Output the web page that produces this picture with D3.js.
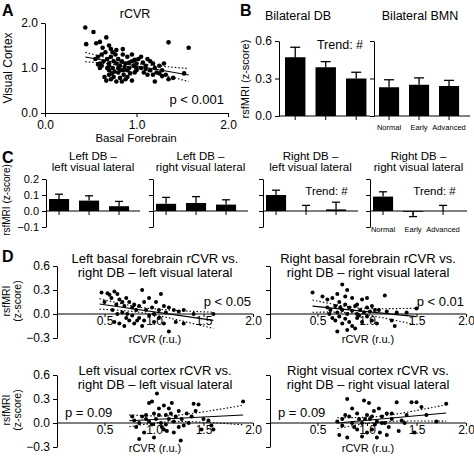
<!DOCTYPE html>
<html><head><meta charset="utf-8">
<script src="https://cdn.jsdelivr.net/npm/d3@7"></script>
<style>body{margin:0;background:#fff}svg{font-family:"Liberation Sans",Arial,sans-serif}</style>
</head><body><svg id="c" width="474" height="457"></svg>
<script>
// ---------- DATA ----------
const panelAPoints=[[0.44,1.9],[0.45,1.53],[0.53,1.8],[0.56,1.55],[0.6,1.58],[0.67,1.68],[0.63,1.45],[0.7,1.5],[0.72,1.42],[0.78,1.4],[0.85,1.42],[0.66,1.35],[0.62,1.3],[0.58,1.25],[0.55,1.2],[0.6,1.1],[0.62,1.05],[0.64,1.15],[0.68,1.2],[0.7,1.1],[0.72,1.25],[0.74,1.0],[0.75,1.15],[0.77,1.3],[0.8,1.2],[0.82,1.05],[0.84,1.15],[0.86,0.95],[0.88,1.1],[0.9,1.25],[0.92,1.0],[0.95,1.15],[0.97,1.05],[1.0,1.1],[1.02,1.2],[1.05,1.0],[1.07,1.12],[1.1,1.05],[1.12,1.2],[1.15,0.95],[1.18,1.1],[1.2,1.0],[1.22,0.9],[1.25,1.05],[1.28,0.95],[1.3,1.1],[1.32,0.85],[1.35,0.75],[1.4,0.78],[1.52,0.88],[1.35,1.57],[1.57,1.45],[1.2,0.7],[0.65,0.8],[0.67,0.72],[0.7,0.85],[0.72,0.75],[0.75,0.8],[0.78,0.7],[0.8,0.9],[0.82,0.78],[0.84,0.7],[0.86,0.85],[0.88,0.75],[0.9,0.8],[0.93,0.88],[0.95,0.72],[0.98,0.9],[0.7,0.95],[0.76,0.92],[0.8,1.0],[0.85,1.3],[0.9,0.95],[0.95,1.3],[1.0,0.95],[1.05,1.25],[1.08,0.9],[1.15,1.15],[1.18,0.85],[1.25,0.88],[0.6,1.0],[0.58,1.08],[0.7,1.05],[0.78,1.1],[0.83,0.95],[0.87,1.02],[1.12,0.85],[1.0,1.0],[0.92,1.12],[0.74,1.35],[0.68,1.0],[0.73,0.88],[1.28,0.82],[1.1,0.98],[0.98,1.18]];
const groups=["Normal","Early","Advanced"];
const bilateralDB=[0.47,0.39,0.30], bilateralDBErr=[0.08,0.045,0.05];
const bilateralBMN=[0.23,0.25,0.24], bilateralBMNErr=[0.06,0.055,0.045];
const cTitles=[["Left DB –","left visual lateral"],["Left DB –","right visual lateral"],["Right DB –","left visual lateral"],["Right DB –","right visual lateral"]];
const cValues=[[0.075,0.065,0.03],[0.045,0.05,0.04],[0.10,0.0,0.01],[0.09,-0.005,0.0]];
const cErr=[[0.03,0.03,0.03],[0.04,0.04,0.03],[0.03,0.035,0.045],[0.03,-0.03,0.035]];
const cTrend=[false,false,true,true];
const dTitles=[["Left basal forebrain rCVR vs.","right DB – left visual lateral"],["Right basal forebrain rCVR vs.","right DB – right visual lateral"],["Left visual cortex rCVR vs.","right DB – left visual lateral"],["Right visual cortex rCVR vs.","right DB – right visual lateral"]];
const dP=["p < 0.05","p < 0.01","p = 0.09","p = 0.09"];
const dPoints=[
[[0.47,0.27],[0.53,0.26],[0.55,0.24],[0.6,0.28],[0.63,0.25],[0.57,0.2],[0.65,0.18],[0.5,0.15],[0.62,0.12],[0.68,0.15],[0.7,0.1],[0.72,0.2],[0.75,0.15],[0.78,0.08],[0.8,0.12],[0.82,0.05],[0.85,0.1],[0.88,0.3],[0.9,0.15],[0.92,0.05],[0.95,0.2],[0.98,0.08],[1.0,0.0],[1.02,0.15],[1.05,0.05],[1.07,0.25],[1.1,0.1],[1.12,0.02],[1.15,0.08],[1.2,0.05],[1.25,0.03],[1.3,0.05],[1.4,0.0],[1.6,0.0],[0.6,-0.1],[0.65,-0.12],[0.7,-0.15],[0.72,-0.05],[0.75,-0.08],[0.78,-0.02],[0.8,-0.12],[0.85,-0.05],[0.88,-0.15],[0.9,-0.08],[0.95,-0.02],[1.0,-0.1],[1.05,-0.05],[1.1,-0.12],[1.15,-0.22],[1.22,-0.1],[1.3,-0.12],[0.68,0.02],[0.58,0.05],[0.73,0.0],[0.83,-0.08],[0.63,0.0]],
[[0.45,0.27],[0.55,0.22],[0.6,0.18],[0.65,0.2],[0.7,0.25],[0.75,0.37],[0.72,0.15],[0.78,0.22],[0.8,0.3],[0.85,0.2],[0.9,0.12],[0.95,0.18],[1.0,0.2],[1.05,0.1],[1.18,0.23],[0.6,0.08],[0.63,0.05],[0.68,0.1],[0.7,0.02],[0.73,0.08],[0.75,0.05],[0.78,0.12],[0.8,0.0],[0.82,0.08],[0.85,0.04],[0.88,0.1],[0.9,0.0],[0.93,0.05],[0.97,0.02],[1.0,0.08],[1.03,0.03],[1.08,0.05],[1.12,0.05],[1.2,0.03],[1.3,0.02],[1.4,0.02],[1.5,0.07],[0.65,-0.05],[0.68,-0.08],[0.72,-0.03],[0.75,-0.12],[0.78,-0.06],[0.82,-0.1],[0.85,-0.15],[0.9,-0.05],[0.95,-0.1],[1.0,-0.03],[1.05,-0.08],[1.1,-0.12],[1.25,-0.08],[1.28,-0.15],[0.7,-0.22],[0.8,-0.2],[0.88,-0.18],[0.62,0.0],[0.92,-0.02]],
[[0.78,0.08],[0.8,0.03],[0.82,-0.05],[0.85,0.0],[0.88,0.08],[0.9,-0.12],[0.92,0.05],[0.95,0.25],[0.98,0.27],[1.0,0.12],[1.02,0.05],[1.03,0.37],[1.05,0.18],[1.07,0.0],[1.08,-0.05],[1.1,0.22],[1.12,0.1],[1.13,-0.1],[1.15,0.05],[1.17,0.12],[1.18,0.25],[1.2,0.02],[1.22,0.08],[1.25,0.15],[1.28,0.05],[1.3,-0.03],[1.33,0.12],[1.35,0.0],[1.4,0.24],[1.42,0.15],[1.45,0.23],[1.48,-0.08],[1.5,0.05],[1.55,0.03],[1.58,-0.03],[1.6,-0.08],[1.9,0.27],[0.85,-0.2],[1.0,-0.18],[1.1,-0.08],[1.27,-0.22],[0.95,0.02],[1.05,0.1],[1.15,0.18],[1.2,-0.12],[1.38,0.08],[0.98,-0.02],[1.12,-0.02],[0.92,0.1],[1.25,-0.05]],
[[0.7,0.02],[0.72,-0.15],[0.75,-0.03],[0.78,0.1],[0.8,0.3],[0.82,0.08],[0.85,0.18],[0.87,-0.05],[0.9,0.12],[0.92,0.05],[0.95,0.0],[0.97,0.28],[1.0,0.1],[1.02,0.25],[1.03,0.05],[1.05,-0.08],[1.07,0.15],[1.1,0.02],[1.12,0.18],[1.13,-0.12],[1.15,0.08],[1.18,0.0],[1.2,0.12],[1.22,-0.05],[1.25,0.05],[1.3,0.26],[1.32,-0.1],[1.35,0.03],[1.4,0.1],[1.45,0.26],[1.48,-0.12],[1.5,0.26],[1.55,0.2],[1.6,0.1],[1.7,0.02],[1.8,0.24],[0.8,-0.18],[0.95,-0.17],[1.0,-0.12],[1.1,-0.18],[0.85,0.0],[0.9,-0.08],[1.05,0.08],[1.15,0.0],[1.25,0.12],[0.75,0.05],[1.38,0.0],[0.98,0.05],[1.08,-0.02],[1.2,-0.15]]
];

// ---------- HELPERS ----------
const svg=d3.select("#c");
const txt=(x,y,s,o={})=>svg.append("text").attr("x",x).attr("y",y).text(s)
  .attr("font-size",o.size||11).attr("text-anchor",o.anchor||"middle")
  .attr("font-weight",o.bold?"bold":"normal").attr("fill","#000")
  .attr("transform",o.rot?`rotate(${o.rot},${x},${y})`:null);
function styleAxis(g){g.selectAll("path,line").attr("stroke","#000").attr("stroke-width",1);g.selectAll("text").attr("fill","#000").attr("font-family","Liberation Sans,Arial,sans-serif");}
function regress(pts,xs,ys,g,x0,x1){
  const n=pts.length,mx=d3.mean(pts,d=>d[0]),my=d3.mean(pts,d=>d[1]);
  const sxx=d3.sum(pts,d=>(d[0]-mx)**2),b=d3.sum(pts,d=>(d[0]-mx)*(d[1]-my))/sxx,a=my-b*mx;
  const se=Math.sqrt(d3.sum(pts,d=>(d[1]-a-b*d[0])**2)/(n-2));
  const xsamp=d3.range(0,41).map(i=>x0+(x1-x0)*i/40);
  const ci=s=>xsamp.map(x=>[x,a+b*x+s*2.0*se*Math.sqrt(1/n+(x-mx)**2/sxx)]);
  const line=d3.line().x(d=>xs(d[0])).y(d=>ys(d[1]));
  g.append("path").attr("d",line([[x0,a+b*x0],[x1,a+b*x1]])).attr("stroke","#000").attr("fill","none").attr("stroke-width",1.1);
  [1,-1].forEach(s=>g.append("path").attr("d",line(ci(s))).attr("stroke","#000").attr("fill","none").attr("stroke-width",1.1).attr("stroke-dasharray","1.5,2"));
}

// ---------- PANEL A ----------
txt(2,16,"A",{size:16,bold:true,anchor:"start"});
{
  const xs=d3.scaleLinear().domain([0,2]).range([45,228]);
  const ys=d3.scaleLinear().domain([0,2]).range([113,23]);
  const g=svg.append("g");
  g.append("g").attr("transform","translate(0,113)").call(d3.axisBottom(xs).tickValues([0,1,2]).tickFormat(d3.format(".1f")).tickSize(4).tickSizeOuter(0)).call(styleAxis).selectAll("text").attr("font-size",12);
  g.append("g").attr("transform","translate(45,0)").call(d3.axisLeft(ys).tickValues([0,1,2]).tickFormat(d3.format(".1f")).tickSize(4).tickSizeOuter(0)).call(styleAxis).selectAll("text").attr("font-size",12);
  g.selectAll("circle").data(panelAPoints).join("circle").attr("cx",d=>xs(d[0])).attr("cy",d=>ys(d[1])).attr("r",2.3).attr("fill","#000");
  regress(panelAPoints,xs,ys,g,0.44,1.57);
  txt(135,18,"rCVR",{size:12.5});
  txt(136,142,"Basal Forebrain",{size:11.5});
  txt(12,68,"Visual Cortex",{size:12,rot:-90});
  txt(224,104,"p < 0.001",{size:13,anchor:"end"});
}

// ---------- BAR helper ----------
function bars(axisX,endX,vals,errs,ys,opts){
  const g=svg.append("g");
  const s0=axisX+opts.pad;
  const xs=d3.scaleBand().domain(groups).range([s0,s0+opts.step*(3-opts.inner)]).paddingInner(opts.inner).paddingOuter(0);
  const base=ys(0);
  g.selectAll("rect").data(vals).join("rect").attr("x",(d,i)=>xs(groups[i])).attr("width",xs.bandwidth())
    .attr("y",d=>Math.min(ys(d),base)).attr("height",d=>Math.abs(ys(d)-base)).attr("fill","#000");
  vals.forEach((v,i)=>{
    const cx=xs(groups[i])+xs.bandwidth()/2, e=v+errs[i], cap=opts.cap;
    g.append("line").attr("x1",cx).attr("x2",cx).attr("y1",ys(v)).attr("y2",ys(e)).attr("stroke","#000").attr("stroke-width",1.3);
    g.append("line").attr("x1",cx-cap).attr("x2",cx+cap).attr("y1",ys(e)).attr("y2",ys(e)).attr("stroke","#000").attr("stroke-width",1.3);
    g.append("line").attr("x1",cx).attr("x2",cx).attr("y1",base).attr("y2",base+opts.tick).attr("stroke","#000");
  });
  g.append("line").attr("x1",axisX).attr("x2",endX).attr("y1",base).attr("y2",base).attr("stroke","#000");
  const ax=g.append("g").attr("transform",`translate(${axisX},0)`).call(d3.axisLeft(ys).tickValues(opts.ticks).tickFormat(opts.labels?d3.format(".1f"):"").tickSize(4).tickSizeOuter(0)).call(styleAxis);
  ax.selectAll("text").attr("font-size",opts.fs);
  if(opts.cats) groups.forEach(c=>txt(xs(c)+xs.bandwidth()/2,opts.catY,c,{size:7.5}));
}

// ---------- PANEL B ----------
txt(240,16,"B",{size:16,bold:true,anchor:"start"});
{
  const ys=d3.scaleLinear().domain([0,0.6]).range([116,41]);
  const o={pad:6,step:30.5,inner:0.33,cap:5,tick:4,ticks:[0,0.3,0.6],fs:12};
  bars(279,370,bilateralDB,bilateralDBErr,ys,{...o,labels:true});
  bars(374,470,bilateralBMN,bilateralBMNErr,ys,{...o,pad:5,step:30,labels:false,cats:true,catY:130});
  txt(298,20,"Bilateral DB",{size:12.5});
  txt(420,20,"Bilateral BMN",{size:12.5});
  txt(340,49,"Trend: #",{size:12.5});
  txt(249,79,"rsfMRI (z-score)",{size:11,rot:-90});
}

// ---------- PANEL C ----------
txt(2,163,"C",{size:16,bold:true,anchor:"start"});
{
  const ys=d3.scaleLinear().domain([-0.1,0.2]).range([227,179]);
  const axes=[[46,140],[153,248],[263,358],[370,467]];
  axes.forEach((a,k)=>{
    bars(a[0],a[1],cValues[k],cErr[k],ys,{pad:3,step:30,inner:0.33,cap:4,tick:4,ticks:[-0.1,0,0.1,0.2],fs:11,labels:k===0,cats:k===3,catY:232});
    const cx=(a[0]+a[1])/2;
    txt(cx,160,cTitles[k][0],{size:11.5});
    txt(cx,171,cTitles[k][1],{size:11.5});
    if(cTrend[k]) txt(cx+16,195,"Trend: #",{size:11.5});
  });
  txt(10,200,"rsfMRI (z-score)",{size:10,rot:-90});
}

// ---------- PANEL D ----------
txt(2,262,"D",{size:16,bold:true,anchor:"start"});
{
  const cfg=[{x0:55,y0:314,row:0},{x0:268,y0:314,row:0},{x0:55,y0:423,row:1},{x0:268,y0:423,row:1}];
  const xr=[[0.45,1.6],[0.45,1.5],[0.75,1.9],[0.7,1.8]];
  cfg.forEach((c,k)=>{
    const xs=d3.scaleLinear().domain([0,2]).range([c.x0,c.x0+198]);
    const ys=d3.scaleLinear().domain([-0.3,0.6]).range([c.y0+24,c.y0-48]);
    const g=svg.append("g");
    const axX=c.x0+2;
    g.append("g").attr("transform",`translate(${axX},0)`).call(d3.axisLeft(ys).tickValues([-0.3,0,0.3,0.6]).tickFormat(k%2===0?d3.format(".1f"):"").tickSize(4).tickSizeOuter(0)).call(styleAxis).selectAll("text").attr("font-size",12);
    const xa=g.append("g").attr("transform",`translate(0,${c.y0})`).call(d3.axisBottom(xs).tickValues([0.5,1,1.5,2]).tickFormat(d3.format(".1f")).tickSize(3).tickSizeOuter(0)).call(styleAxis);
    xa.select(".domain").attr("d",`M${axX},0H${xs(2)}`);
    xa.selectAll("text").attr("font-size",12).attr("dy","0.45em");
    g.selectAll("circle").data(dPoints[k]).join("circle").attr("cx",d=>xs(d[0])).attr("cy",d=>ys(d[1])).attr("r",2).attr("fill","#000");
    regress(dPoints[k],xs,ys,g,xr[k][0],xr[k][1]);
    const cx=c.x0+100;
    const ty=c.row===0?263:375;
    txt(cx,ty,dTitles[k][0],{size:13});
    txt(cx,ty+14,dTitles[k][1],{size:13});
    txt(cx,c.y0+29,"rCVR (r.u.)",{size:11});
    if(c.row===0) txt(c.x0+196,c.y0-8,dP[k],{size:13,anchor:"end"});
    else txt(c.x0+10,c.y0-6,dP[k],{size:13,anchor:"start"});
  });
  [314,423].forEach(y=>{txt(10,y-13,"rsfMRI",{size:10.5,rot:-90});txt(21,y-13,"(z-score)",{size:10.5,rot:-90});});
}
</script></body></html>
